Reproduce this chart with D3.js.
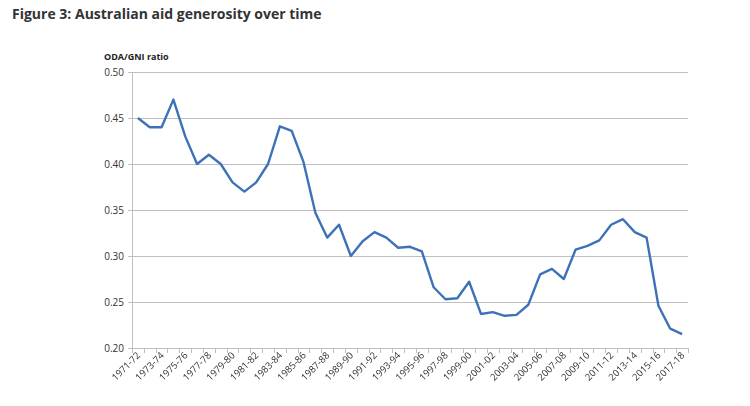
<!DOCTYPE html>
<html><head><meta charset="utf-8">
<script src="https://cdn.jsdelivr.net/npm/d3@7"></script>
<style>
body{margin:0;background:#fff;}
svg{display:block;}
.xlabels{filter:grayscale(1);}
</style></head>
<body>
<svg id="chart" width="750" height="406"></svg>
<script>
const years = ["1971-72","1972-73","1973-74","1974-75","1975-76","1976-77","1977-78","1978-79","1979-80","1980-81","1981-82","1982-83","1983-84","1984-85","1985-86","1986-87","1987-88","1988-89","1989-90","1990-91","1991-92","1992-93","1993-94","1994-95","1995-96","1996-97","1997-98","1998-99","1999-00","2000-01","2001-02","2002-03","2003-04","2004-05","2005-06","2006-07","2007-08","2008-09","2009-10","2010-11","2011-12","2012-13","2013-14","2014-15","2015-16","2016-17","2017-18"];
const odaGni = [0.45,0.44,0.44,0.47,0.43,0.40,0.41,0.40,0.38,0.37,0.38,0.40,0.441,0.436,0.402,0.347,0.320,0.334,0.300,0.316,0.326,0.320,0.309,0.310,0.305,0.266,0.253,0.254,0.272,0.237,0.239,0.235,0.236,0.247,0.280,0.286,0.275,0.307,0.311,0.317,0.334,0.340,0.326,0.320,0.246,0.221,0.215];
const yTicks = [0.20,0.25,0.30,0.35,0.40,0.45,0.50];

(function(){
const svg = d3.select("#chart");
const font = "'Open Sans', sans-serif";
const pL = 132, pR = 688, pT = 72, pB = 348;

svg.append("text").attr("x",12).attr("y",19)
  .attr("font-family",font).attr("font-weight","bold").attr("font-size",14)
  .attr("fill","#333").text("Figure 3: Australian aid generosity over time");

const x = d3.scaleBand().domain(years).range([pL,pR]).padding(0);
const y = d3.scaleLinear().domain([0.2,0.5]).range([pB,pT]);

svg.append("g").selectAll("line").data(yTicks.slice(1)).join("line")
  .attr("x1",pL).attr("x2",pR).attr("y1",d=>y(d)).attr("y2",d=>y(d))
  .attr("stroke","#bfbfbf").attr("stroke-width",1).attr("shape-rendering","crispEdges");

const yAxis = svg.append("g").attr("transform",`translate(${pL},0)`)
  .call(d3.axisLeft(y).tickValues(yTicks).tickFormat(d3.format(".2f")).tickSize(4).tickPadding(4));
yAxis.select(".domain").attr("stroke","#bfbfbf").attr("shape-rendering","crispEdges");
yAxis.selectAll(".tick line").attr("stroke","#bfbfbf").attr("shape-rendering","crispEdges");
yAxis.selectAll("text").attr("font-family",font).attr("font-size",10).attr("fill","#333");

const xg = svg.append("g");
xg.append("line").attr("x1",pL).attr("x2",pR).attr("y1",pB).attr("y2",pB)
  .attr("stroke","#bfbfbf").attr("shape-rendering","crispEdges");
const bounds = years.map(d=>x(d)).concat([x(years[years.length-1])+x.bandwidth()]);
xg.selectAll("line.t").data(bounds).join("line").attr("class","t")
  .attr("x1",d=>Math.round(d)+0.5).attr("x2",d=>Math.round(d)+0.5).attr("y1",pB).attr("y2",pB+5)
  .attr("stroke","#bfbfbf");
const xl = xg.append("g").attr("class","xlabels");
xl.selectAll("text").data(years.filter((d,i)=>i%2===0)).join("text")
  .attr("transform",d=>`translate(${x(d)+x.bandwidth()/2+3},${pB+8}) rotate(-45)`)
  .attr("text-anchor","end").attr("font-family",font).attr("font-size",9.5).attr("fill","#333")
  .text(d=>d);

svg.append("text").attr("x",104).attr("y",60).attr("font-family",font).attr("font-weight","bold")
  .attr("font-size",9).attr("fill","#222").text("ODA/GNI ratio");

const line = d3.line().x((d,i)=>x(years[i])+x.bandwidth()/2).y(d=>y(d));
svg.append("path").datum(odaGni).attr("d",line).attr("fill","none")
  .attr("stroke","#3d72b8").attr("stroke-width",2.4).attr("stroke-linejoin","round");
})();
</script>
</body></html>
